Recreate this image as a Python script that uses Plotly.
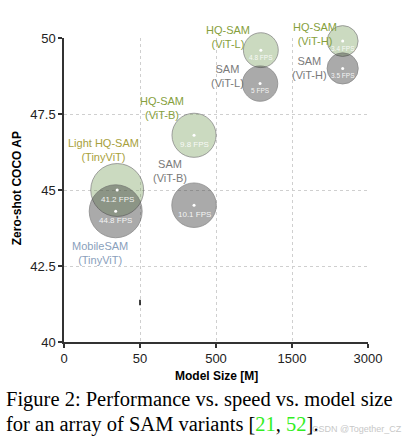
import numpy as np
import plotly.graph_objects as go

# ---- data ----
hq_names = ["Light HQ-SAM<br>(TinyViT)", "HQ-SAM<br>(ViT-B)", "HQ-SAM<br>(ViT-L)", "HQ-SAM<br>(ViT-H)"]
hq_size_m = [35, 370, 1090, 2500]
hq_ap = [45.0, 46.8, 49.6, 49.9]
hq_fps = [41.2, 9.8, 4.8, 3.4]

sam_names = ["MobileSAM<br>(TinyViT)", "SAM<br>(ViT-B)", "SAM<br>(ViT-L)", "SAM<br>(ViT-H)"]
sam_size_m = [34, 370, 1080, 2500]
sam_ap = [44.3, 44.5, 48.5, 49.0]
sam_fps = [44.8, 10.1, 5.0, 3.5]

x_tick_values = [0, 50, 500, 1500, 3000]
y_tick_values = [40, 42.5, 45, 47.5, 50]
y_tick_labels = ["40", "42.5", "45", "47.5", "50"]

stray_mark_size = [50]
stray_mark_ap = [41.3]

# ---- helpers ----
def xpos(v):
    return np.interp(v, x_tick_values, np.arange(len(x_tick_values)))

def diam(fps):
    fps = np.asarray(fps, dtype=float)
    return 2 * (26.5 - 18 * np.exp(-fps / 7.0))

GREEN_FILL = "rgba(115,155,85,0.52)"
GRAY_FILL = "rgba(55,55,55,0.6)"
EDGE = "rgba(90,90,90,0.8)"

fig = go.Figure()

fig.add_trace(go.Scatter(
    x=xpos(hq_size_m), y=hq_ap, mode="markers", cliponaxis=False,
    marker=dict(size=diam(hq_fps), color=GREEN_FILL, line=dict(color=EDGE, width=1)),
    hoverinfo="skip", showlegend=False))
fig.add_trace(go.Scatter(
    x=xpos(sam_size_m), y=sam_ap, mode="markers", cliponaxis=False,
    marker=dict(size=diam(sam_fps), color=GRAY_FILL, line=dict(color=EDGE, width=1)),
    hoverinfo="skip", showlegend=False))
# centre dots
fig.add_trace(go.Scatter(
    x=np.concatenate([xpos(hq_size_m), xpos(sam_size_m)]), y=hq_ap + sam_ap,
    mode="markers", cliponaxis=False,
    marker=dict(size=3, color="white"), hoverinfo="skip", showlegend=False))
# stray mark
fig.add_trace(go.Scatter(
    x=xpos(stray_mark_size), y=stray_mark_ap, mode="markers",
    marker=dict(symbol="line-ns", size=4, line=dict(color="black", width=1.5)),
    hoverinfo="skip", showlegend=False))

annotations = []
# FPS labels
for sizes, aps, fpss in [(hq_size_m, hq_ap, hq_fps), (sam_size_m, sam_ap, sam_fps)]:
    for s, a, f in zip(sizes, aps, fpss):
        small = f < 6
        annotations.append(dict(
            x=float(xpos(s)), y=a, text=f"{f:g} FPS", showarrow=False,
            font=dict(family="Arial, Liberation Sans, sans-serif", size=6.5 if small else 8,
                      color="rgba(255,255,255,0.9)"),
            yshift=-7 if small else -9))

# name labels with pixel offsets from bubble centre
hq_offsets = [(-14, 40), (-32, 27), (-33, 13.5), (-28, 7.5)]
sam_offsets = [(-16, -42), (-24, 34.5), (-33, 7.5), (-33, 0)]
hq_colors = ["#a89f3c", "#86a03c", "#86a03c", "#86a03c"]
sam_colors = ["#8aa0bc", "#7a7a7a", "#7a7a7a", "#7a7a7a"]
for names, sizes, aps, offs, cols in [(hq_names, hq_size_m, hq_ap, hq_offsets, hq_colors),
                                      (sam_names, sam_size_m, sam_ap, sam_offsets, sam_colors)]:
    for n, s, a, (dx, dy), c in zip(names, sizes, aps, offs, cols):
        annotations.append(dict(
            x=float(xpos(s)), y=a, text=n, showarrow=False,
            font=dict(family="Arial, Liberation Sans, sans-serif", size=11, color=c),
            xshift=dx, yshift=dy, xanchor="center", yanchor="middle"))

# axis titles
annotations.append(dict(xref="paper", yref="paper", x=0.5, y=-0.112, text="<b>Model Size [M]</b>",
                        showarrow=False, xanchor="center", yanchor="middle",
                        font=dict(family="Arial, Liberation Sans, sans-serif", size=12, color="black")))
annotations.append(dict(xref="paper", yref="paper", x=-0.152, y=0.505, text="<b>Zero-shot COCO AP</b>",
                        showarrow=False, xanchor="center", yanchor="middle", textangle=-90,
                        font=dict(family="Arial, Liberation Sans, sans-serif", size=12, color="black")))

# caption
cap_font = dict(family="Liberation Serif, Times New Roman, serif", size=20.5, color="black")
annotations.append(dict(xref="paper", yref="paper", x=-0.196, y=-0.19, xanchor="left", yanchor="middle",
                        text="Figure 2: Performance vs. speed vs. model size", showarrow=False, font=cap_font))
annotations.append(dict(xref="paper", yref="paper", x=-0.196, y=-0.27, xanchor="left", yanchor="middle",
                        text="for an array of SAM variants [<span style='color:#33ee22'>21</span>, "
                             "<span style='color:#33ee22'>52</span>].",
                        showarrow=False, font=cap_font))
annotations.append(dict(xref="paper", yref="paper", x=1.118, y=-0.285, xanchor="right", yanchor="middle",
                        text="CSDN @Together_CZ", showarrow=False,
                        font=dict(family="Arial, Liberation Sans, sans-serif", size=9, color="#c8c8c8")))

fig.update_layout(
    width=406, height=444,
    margin=dict(l=64, r=38, t=38, b=102),
    paper_bgcolor="white", plot_bgcolor="white",
    annotations=annotations,
    font=dict(family="Arial, Liberation Sans, sans-serif", color="#222"),
)
fig.update_xaxes(
    range=[0, len(x_tick_values) - 1], tickmode="array",
    tickvals=list(range(len(x_tick_values))), ticktext=[str(v) for v in x_tick_values],
    showgrid=True, gridcolor="#cfcfcf", griddash="dot", gridwidth=1,
    showline=True, linecolor="#333", linewidth=1.5,
    ticks="outside", ticklen=4, tickcolor="#333", tickwidth=1.5,
    tickfont=dict(size=13, color="#222"), zeroline=False)
fig.update_yaxes(
    range=[40, 50], tickmode="array", tickvals=y_tick_values, ticktext=y_tick_labels,
    showgrid=True, gridcolor="#cfcfcf", griddash="dot", gridwidth=1,
    showline=True, linecolor="#333", linewidth=1.5,
    ticks="outside", ticklen=4, tickcolor="#333", tickwidth=1.5,
    tickfont=dict(size=13, color="#222"), zeroline=False)

# remove the page's default 8px body margin so the figure sits at the window origin
fig.write_html("out.html", config={"displayModeBar": False},
               post_script="document.body.style.margin='0px';document.body.style.overflow='hidden';")
